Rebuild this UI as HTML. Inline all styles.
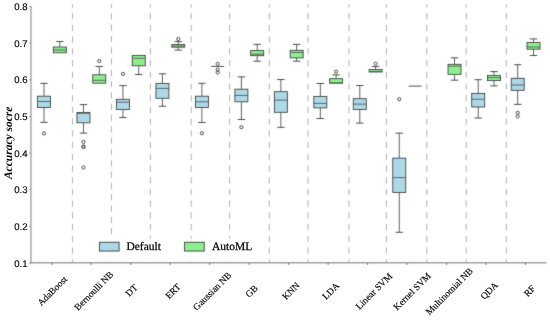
<!DOCTYPE html><html><head><meta charset="utf-8"><style>html,body{margin:0;padding:0;background:#fff;width:550px;height:320px;overflow:hidden}svg{display:block}</style></head><body>
<svg width="550" height="320" viewBox="0 0 550 320">
<defs><filter id="id" filterUnits="userSpaceOnUse" x="0" y="0" width="550" height="320"><feOffset dx="0" dy="0"/></filter><filter id="bl" filterUnits="userSpaceOnUse" x="0" y="0" width="550" height="320" color-interpolation-filters="sRGB"><feConvolveMatrix order="3" kernelMatrix="0.0113 0.0838 0.0113 0.0838 0.6193 0.0838 0.0113 0.0838 0.0113" edgeMode="duplicate" preserveAlpha="true"/></filter></defs>
<g filter="url(#bl)">
<rect width="550" height="320" fill="#fff"/>
<line x1="72.5" y1="4.3" x2="72.5" y2="262.5" stroke="#b8b8b8" stroke-width="1.1" stroke-dasharray="6.2 5.52" stroke-dashoffset="2.92"/>
<line x1="111.45" y1="4.3" x2="111.45" y2="262.5" stroke="#b8b8b8" stroke-width="1.1" stroke-dasharray="6.2 5.10" stroke-dashoffset="2.30"/>
<line x1="150.4" y1="4.3" x2="150.4" y2="262.5" stroke="#b8b8b8" stroke-width="1.1" stroke-dasharray="6.2 5.52" stroke-dashoffset="2.92"/>
<line x1="191.2" y1="4.3" x2="191.2" y2="262.5" stroke="#b8b8b8" stroke-width="1.1" stroke-dasharray="6.2 5.52" stroke-dashoffset="2.92"/>
<line x1="229.6" y1="4.3" x2="229.6" y2="262.5" stroke="#b8b8b8" stroke-width="1.1" stroke-dasharray="6.2 5.52" stroke-dashoffset="2.92"/>
<line x1="269.3" y1="4.3" x2="269.3" y2="262.5" stroke="#b8b8b8" stroke-width="1.1" stroke-dasharray="6.2 5.52" stroke-dashoffset="2.92"/>
<line x1="308.0" y1="4.3" x2="308.0" y2="262.5" stroke="#b8b8b8" stroke-width="1.1" stroke-dasharray="6.2 5.52" stroke-dashoffset="2.92"/>
<line x1="349.0" y1="4.3" x2="349.0" y2="262.5" stroke="#b8b8b8" stroke-width="1.1" stroke-dasharray="6.2 5.52" stroke-dashoffset="2.92"/>
<line x1="386.4" y1="4.3" x2="386.4" y2="262.5" stroke="#b8b8b8" stroke-width="1.1" stroke-dasharray="6.2 5.52" stroke-dashoffset="2.92"/>
<line x1="426.8" y1="4.3" x2="426.8" y2="262.5" stroke="#b8b8b8" stroke-width="1.1" stroke-dasharray="6.2 5.52" stroke-dashoffset="2.92"/>
<line x1="466.2" y1="4.3" x2="466.2" y2="262.5" stroke="#b8b8b8" stroke-width="1.1" stroke-dasharray="6.2 5.52" stroke-dashoffset="2.92"/>
<line x1="506.3" y1="4.3" x2="506.3" y2="262.5" stroke="#b8b8b8" stroke-width="1.1" stroke-dasharray="6.2 5.52" stroke-dashoffset="2.92"/>
<rect x="93" y="238.3" width="166" height="24.0" fill="#fff" fill-opacity="0.85"/>
<line x1="30.95" y1="5.9" x2="30.95" y2="263.4" stroke="#a8a8a8" stroke-width="1.5"/>
<line x1="30.2" y1="262.7" x2="546.4" y2="262.7" stroke="#a0a0a0" stroke-width="1.5"/>
<line x1="29.4" y1="263.09" x2="30.5" y2="263.09" stroke="#666" stroke-width="1"/>
<line x1="29.4" y1="226.42" x2="30.5" y2="226.42" stroke="#666" stroke-width="1"/>
<line x1="29.4" y1="189.75" x2="30.5" y2="189.75" stroke="#666" stroke-width="1"/>
<line x1="29.4" y1="153.08" x2="30.5" y2="153.08" stroke="#666" stroke-width="1"/>
<line x1="29.4" y1="116.41" x2="30.5" y2="116.41" stroke="#666" stroke-width="1"/>
<line x1="29.4" y1="79.74" x2="30.5" y2="79.74" stroke="#666" stroke-width="1"/>
<line x1="29.4" y1="43.07" x2="30.5" y2="43.07" stroke="#666" stroke-width="1"/>
<line x1="29.4" y1="6.40" x2="30.5" y2="6.40" stroke="#666" stroke-width="1"/>
<line x1="51.80" y1="263" x2="51.80" y2="264.8" stroke="#666" stroke-width="1"/>
<line x1="91.28" y1="263" x2="91.28" y2="264.8" stroke="#666" stroke-width="1"/>
<line x1="130.75" y1="263" x2="130.75" y2="264.8" stroke="#666" stroke-width="1"/>
<line x1="170.23" y1="263" x2="170.23" y2="264.8" stroke="#666" stroke-width="1"/>
<line x1="209.70" y1="263" x2="209.70" y2="264.8" stroke="#666" stroke-width="1"/>
<line x1="249.18" y1="263" x2="249.18" y2="264.8" stroke="#666" stroke-width="1"/>
<line x1="288.65" y1="263" x2="288.65" y2="264.8" stroke="#666" stroke-width="1"/>
<line x1="328.12" y1="263" x2="328.12" y2="264.8" stroke="#666" stroke-width="1"/>
<line x1="367.60" y1="263" x2="367.60" y2="264.8" stroke="#666" stroke-width="1"/>
<line x1="407.08" y1="263" x2="407.08" y2="264.8" stroke="#666" stroke-width="1"/>
<line x1="446.55" y1="263" x2="446.55" y2="264.8" stroke="#666" stroke-width="1"/>
<line x1="486.03" y1="263" x2="486.03" y2="264.8" stroke="#666" stroke-width="1"/>
<line x1="525.50" y1="263" x2="525.50" y2="264.8" stroke="#666" stroke-width="1"/>
<line x1="44.00" y1="83.4" x2="44.00" y2="96.2" stroke="#505050" stroke-width="0.9"/>
<line x1="40.30" y1="83.4" x2="47.70" y2="83.4" stroke="#3c3c3c" stroke-width="0.9"/>
<line x1="44.00" y1="107.5" x2="44.00" y2="122.4" stroke="#505050" stroke-width="0.9"/>
<line x1="40.30" y1="122.4" x2="47.70" y2="122.4" stroke="#3c3c3c" stroke-width="0.9"/>
<rect x="37.50" y="96.2" width="13.00" height="11.30" fill="#add8e6" stroke="#3c3c3c" stroke-width="0.85"/>
<line x1="37.50" y1="101.5" x2="50.50" y2="101.5" stroke="#4a5258" stroke-width="0.85"/>
<circle cx="44.00" cy="133.4" r="1.6" fill="none" stroke="#3c3c3c" stroke-width="0.9"/>
<line x1="59.80" y1="41.5" x2="59.80" y2="47.0" stroke="#505050" stroke-width="0.9"/>
<line x1="56.10" y1="41.5" x2="63.50" y2="41.5" stroke="#3c3c3c" stroke-width="0.9"/>
<rect x="53.30" y="47.0" width="13.00" height="5.80" fill="#90ee90" stroke="#3c3c3c" stroke-width="0.85"/>
<line x1="53.30" y1="50.0" x2="66.30" y2="50.0" stroke="#4a5258" stroke-width="0.85"/>
<line x1="83.47" y1="104.6" x2="83.47" y2="112.5" stroke="#505050" stroke-width="0.9"/>
<line x1="79.77" y1="104.6" x2="87.17" y2="104.6" stroke="#3c3c3c" stroke-width="0.9"/>
<line x1="83.47" y1="122.8" x2="83.47" y2="133.1" stroke="#505050" stroke-width="0.9"/>
<line x1="79.77" y1="133.1" x2="87.17" y2="133.1" stroke="#3c3c3c" stroke-width="0.9"/>
<rect x="76.97" y="112.5" width="13.00" height="10.30" fill="#add8e6" stroke="#3c3c3c" stroke-width="0.85"/>
<line x1="76.97" y1="113.3" x2="89.97" y2="113.3" stroke="#4a5258" stroke-width="0.85"/>
<circle cx="83.47" cy="141.9" r="1.6" fill="none" stroke="#3c3c3c" stroke-width="0.9"/>
<circle cx="83.47" cy="146.5" r="1.6" fill="none" stroke="#3c3c3c" stroke-width="0.9"/>
<circle cx="83.47" cy="147.0" r="1.6" fill="none" stroke="#3c3c3c" stroke-width="0.9"/>
<circle cx="83.47" cy="167.5" r="1.6" fill="none" stroke="#3c3c3c" stroke-width="0.9"/>
<line x1="99.28" y1="66.5" x2="99.28" y2="74.8" stroke="#505050" stroke-width="0.9"/>
<line x1="95.58" y1="66.5" x2="102.98" y2="66.5" stroke="#3c3c3c" stroke-width="0.9"/>
<rect x="92.78" y="74.8" width="13.00" height="8.40" fill="#90ee90" stroke="#3c3c3c" stroke-width="0.85"/>
<line x1="92.78" y1="80.3" x2="105.78" y2="80.3" stroke="#4a5258" stroke-width="0.85"/>
<circle cx="99.28" cy="61.0" r="1.6" fill="none" stroke="#3c3c3c" stroke-width="0.9"/>
<line x1="122.95" y1="85.6" x2="122.95" y2="99.3" stroke="#505050" stroke-width="0.9"/>
<line x1="119.25" y1="85.6" x2="126.65" y2="85.6" stroke="#3c3c3c" stroke-width="0.9"/>
<line x1="122.95" y1="109.5" x2="122.95" y2="117.5" stroke="#505050" stroke-width="0.9"/>
<line x1="119.25" y1="117.5" x2="126.65" y2="117.5" stroke="#3c3c3c" stroke-width="0.9"/>
<rect x="116.45" y="99.3" width="13.00" height="10.20" fill="#add8e6" stroke="#3c3c3c" stroke-width="0.85"/>
<line x1="116.45" y1="102.2" x2="129.45" y2="102.2" stroke="#4a5258" stroke-width="0.85"/>
<circle cx="122.95" cy="73.9" r="1.6" fill="none" stroke="#3c3c3c" stroke-width="0.9"/>
<line x1="138.75" y1="65.8" x2="138.75" y2="74.5" stroke="#505050" stroke-width="0.9"/>
<line x1="135.05" y1="74.5" x2="142.45" y2="74.5" stroke="#3c3c3c" stroke-width="0.9"/>
<rect x="132.25" y="55.4" width="13.00" height="10.40" fill="#90ee90" stroke="#3c3c3c" stroke-width="0.85"/>
<line x1="132.25" y1="58.3" x2="145.25" y2="58.3" stroke="#4a5258" stroke-width="0.85"/>
<line x1="162.43" y1="73.8" x2="162.43" y2="83.4" stroke="#505050" stroke-width="0.9"/>
<line x1="158.73" y1="73.8" x2="166.12" y2="73.8" stroke="#3c3c3c" stroke-width="0.9"/>
<line x1="162.43" y1="98.3" x2="162.43" y2="106.2" stroke="#505050" stroke-width="0.9"/>
<line x1="158.73" y1="106.2" x2="166.12" y2="106.2" stroke="#3c3c3c" stroke-width="0.9"/>
<rect x="155.93" y="83.4" width="13.00" height="14.90" fill="#add8e6" stroke="#3c3c3c" stroke-width="0.85"/>
<line x1="155.93" y1="88.4" x2="168.93" y2="88.4" stroke="#4a5258" stroke-width="0.85"/>
<line x1="178.23" y1="41.6" x2="178.23" y2="44.6" stroke="#505050" stroke-width="0.9"/>
<line x1="174.53" y1="41.6" x2="181.93" y2="41.6" stroke="#3c3c3c" stroke-width="0.9"/>
<line x1="178.23" y1="47.2" x2="178.23" y2="50.1" stroke="#505050" stroke-width="0.9"/>
<line x1="174.53" y1="50.1" x2="181.93" y2="50.1" stroke="#3c3c3c" stroke-width="0.9"/>
<rect x="171.73" y="44.6" width="13.00" height="2.60" fill="#90ee90" stroke="#3c3c3c" stroke-width="0.85"/>
<line x1="171.73" y1="46.0" x2="184.73" y2="46.0" stroke="#4a5258" stroke-width="0.85"/>
<circle cx="178.23" cy="39.0" r="1.6" fill="none" stroke="#3c3c3c" stroke-width="0.9"/>
<line x1="201.90" y1="83.3" x2="201.90" y2="96.2" stroke="#505050" stroke-width="0.9"/>
<line x1="198.20" y1="83.3" x2="205.60" y2="83.3" stroke="#3c3c3c" stroke-width="0.9"/>
<line x1="201.90" y1="107.5" x2="201.90" y2="122.5" stroke="#505050" stroke-width="0.9"/>
<line x1="198.20" y1="122.5" x2="205.60" y2="122.5" stroke="#3c3c3c" stroke-width="0.9"/>
<rect x="195.40" y="96.2" width="13.00" height="11.30" fill="#add8e6" stroke="#3c3c3c" stroke-width="0.85"/>
<line x1="195.40" y1="101.8" x2="208.40" y2="101.8" stroke="#4a5258" stroke-width="0.85"/>
<circle cx="201.90" cy="133.3" r="1.6" fill="none" stroke="#3c3c3c" stroke-width="0.9"/>
<line x1="211.20" y1="66.4" x2="224.20" y2="66.4" stroke="#3c3c3c" stroke-width="0.9"/>
<circle cx="217.70" cy="63.9" r="1.6" fill="none" stroke="#3c3c3c" stroke-width="0.9"/>
<circle cx="217.70" cy="69.6" r="1.6" fill="none" stroke="#3c3c3c" stroke-width="0.9"/>
<circle cx="217.70" cy="72.4" r="1.6" fill="none" stroke="#3c3c3c" stroke-width="0.9"/>
<line x1="241.38" y1="76.9" x2="241.38" y2="89.2" stroke="#505050" stroke-width="0.9"/>
<line x1="237.68" y1="76.9" x2="245.07" y2="76.9" stroke="#3c3c3c" stroke-width="0.9"/>
<line x1="241.38" y1="101.8" x2="241.38" y2="119.5" stroke="#505050" stroke-width="0.9"/>
<line x1="237.68" y1="119.5" x2="245.07" y2="119.5" stroke="#3c3c3c" stroke-width="0.9"/>
<rect x="234.88" y="89.2" width="13.00" height="12.60" fill="#add8e6" stroke="#3c3c3c" stroke-width="0.85"/>
<line x1="234.88" y1="95.4" x2="247.88" y2="95.4" stroke="#4a5258" stroke-width="0.85"/>
<circle cx="241.38" cy="127.2" r="1.6" fill="none" stroke="#3c3c3c" stroke-width="0.9"/>
<line x1="257.18" y1="44.3" x2="257.18" y2="50.6" stroke="#505050" stroke-width="0.9"/>
<line x1="253.48" y1="44.3" x2="260.88" y2="44.3" stroke="#3c3c3c" stroke-width="0.9"/>
<line x1="257.18" y1="55.7" x2="257.18" y2="61.2" stroke="#505050" stroke-width="0.9"/>
<line x1="253.48" y1="61.2" x2="260.88" y2="61.2" stroke="#3c3c3c" stroke-width="0.9"/>
<rect x="250.68" y="50.6" width="13.00" height="5.10" fill="#90ee90" stroke="#3c3c3c" stroke-width="0.85"/>
<line x1="250.68" y1="54.2" x2="263.68" y2="54.2" stroke="#4a5258" stroke-width="0.85"/>
<line x1="280.85" y1="79.5" x2="280.85" y2="91.7" stroke="#505050" stroke-width="0.9"/>
<line x1="277.15" y1="79.5" x2="284.55" y2="79.5" stroke="#3c3c3c" stroke-width="0.9"/>
<line x1="280.85" y1="112.3" x2="280.85" y2="127.3" stroke="#505050" stroke-width="0.9"/>
<line x1="277.15" y1="127.3" x2="284.55" y2="127.3" stroke="#3c3c3c" stroke-width="0.9"/>
<rect x="274.35" y="91.7" width="13.00" height="20.60" fill="#add8e6" stroke="#3c3c3c" stroke-width="0.85"/>
<line x1="274.35" y1="100.1" x2="287.35" y2="100.1" stroke="#4a5258" stroke-width="0.85"/>
<line x1="296.65" y1="44.4" x2="296.65" y2="50.3" stroke="#505050" stroke-width="0.9"/>
<line x1="292.95" y1="44.4" x2="300.35" y2="44.4" stroke="#3c3c3c" stroke-width="0.9"/>
<line x1="296.65" y1="57.9" x2="296.65" y2="61.2" stroke="#505050" stroke-width="0.9"/>
<line x1="292.95" y1="61.2" x2="300.35" y2="61.2" stroke="#3c3c3c" stroke-width="0.9"/>
<rect x="290.15" y="50.3" width="13.00" height="7.60" fill="#90ee90" stroke="#3c3c3c" stroke-width="0.85"/>
<line x1="290.15" y1="52.4" x2="303.15" y2="52.4" stroke="#4a5258" stroke-width="0.85"/>
<line x1="320.33" y1="83.5" x2="320.33" y2="96.4" stroke="#505050" stroke-width="0.9"/>
<line x1="316.63" y1="83.5" x2="324.03" y2="83.5" stroke="#3c3c3c" stroke-width="0.9"/>
<line x1="320.33" y1="107.9" x2="320.33" y2="118.5" stroke="#505050" stroke-width="0.9"/>
<line x1="316.63" y1="118.5" x2="324.03" y2="118.5" stroke="#3c3c3c" stroke-width="0.9"/>
<rect x="313.83" y="96.4" width="13.00" height="11.50" fill="#add8e6" stroke="#3c3c3c" stroke-width="0.85"/>
<line x1="313.83" y1="103.4" x2="326.83" y2="103.4" stroke="#4a5258" stroke-width="0.85"/>
<line x1="336.12" y1="74.9" x2="336.12" y2="78.7" stroke="#505050" stroke-width="0.9"/>
<line x1="332.43" y1="74.9" x2="339.82" y2="74.9" stroke="#3c3c3c" stroke-width="0.9"/>
<rect x="329.62" y="78.7" width="13.00" height="4.40" fill="#90ee90" stroke="#3c3c3c" stroke-width="0.85"/>
<line x1="329.62" y1="83.0" x2="342.62" y2="83.0" stroke="#4a5258" stroke-width="0.85"/>
<circle cx="336.12" cy="71.75" r="1.6" fill="none" stroke="#3c3c3c" stroke-width="0.9"/>
<line x1="359.80" y1="85.5" x2="359.80" y2="98.7" stroke="#505050" stroke-width="0.9"/>
<line x1="356.10" y1="85.5" x2="363.50" y2="85.5" stroke="#3c3c3c" stroke-width="0.9"/>
<line x1="359.80" y1="109.5" x2="359.80" y2="123.1" stroke="#505050" stroke-width="0.9"/>
<line x1="356.10" y1="123.1" x2="363.50" y2="123.1" stroke="#3c3c3c" stroke-width="0.9"/>
<rect x="353.30" y="98.7" width="13.00" height="10.80" fill="#add8e6" stroke="#3c3c3c" stroke-width="0.85"/>
<line x1="353.30" y1="104.1" x2="366.30" y2="104.1" stroke="#4a5258" stroke-width="0.85"/>
<line x1="375.60" y1="66.5" x2="375.60" y2="69.5" stroke="#505050" stroke-width="0.9"/>
<line x1="371.90" y1="66.5" x2="379.30" y2="66.5" stroke="#3c3c3c" stroke-width="0.9"/>
<rect x="369.10" y="69.5" width="13.00" height="2.50" fill="#90ee90" stroke="#3c3c3c" stroke-width="0.85"/>
<line x1="369.10" y1="71.5" x2="382.10" y2="71.5" stroke="#4a5258" stroke-width="0.85"/>
<circle cx="375.60" cy="63.6" r="1.6" fill="none" stroke="#3c3c3c" stroke-width="0.9"/>
<line x1="399.28" y1="133.1" x2="399.28" y2="158.1" stroke="#505050" stroke-width="0.9"/>
<line x1="395.58" y1="133.1" x2="402.98" y2="133.1" stroke="#3c3c3c" stroke-width="0.9"/>
<line x1="399.28" y1="192.4" x2="399.28" y2="232.3" stroke="#505050" stroke-width="0.9"/>
<line x1="395.58" y1="232.3" x2="402.98" y2="232.3" stroke="#3c3c3c" stroke-width="0.9"/>
<rect x="392.78" y="158.1" width="13.00" height="34.30" fill="#add8e6" stroke="#3c3c3c" stroke-width="0.85"/>
<line x1="392.78" y1="177.6" x2="405.78" y2="177.6" stroke="#4a5258" stroke-width="0.85"/>
<circle cx="399.28" cy="99.2" r="1.6" fill="none" stroke="#3c3c3c" stroke-width="0.9"/>
<line x1="408.58" y1="86.1" x2="421.58" y2="86.1" stroke="#3c3c3c" stroke-width="0.9"/>
<line x1="454.55" y1="57.8" x2="454.55" y2="64.3" stroke="#505050" stroke-width="0.9"/>
<line x1="450.85" y1="57.8" x2="458.25" y2="57.8" stroke="#3c3c3c" stroke-width="0.9"/>
<line x1="454.55" y1="74.3" x2="454.55" y2="80.2" stroke="#505050" stroke-width="0.9"/>
<line x1="450.85" y1="80.2" x2="458.25" y2="80.2" stroke="#3c3c3c" stroke-width="0.9"/>
<rect x="448.05" y="64.3" width="13.00" height="10.00" fill="#90ee90" stroke="#3c3c3c" stroke-width="0.85"/>
<line x1="448.05" y1="66.1" x2="461.05" y2="66.1" stroke="#4a5258" stroke-width="0.85"/>
<line x1="478.23" y1="79.7" x2="478.23" y2="93.4" stroke="#505050" stroke-width="0.9"/>
<line x1="474.53" y1="79.7" x2="481.93" y2="79.7" stroke="#3c3c3c" stroke-width="0.9"/>
<line x1="478.23" y1="107.0" x2="478.23" y2="118.0" stroke="#505050" stroke-width="0.9"/>
<line x1="474.53" y1="118.0" x2="481.93" y2="118.0" stroke="#3c3c3c" stroke-width="0.9"/>
<rect x="471.73" y="93.4" width="13.00" height="13.60" fill="#add8e6" stroke="#3c3c3c" stroke-width="0.85"/>
<line x1="471.73" y1="99.2" x2="484.73" y2="99.2" stroke="#4a5258" stroke-width="0.85"/>
<line x1="494.03" y1="71.6" x2="494.03" y2="75.4" stroke="#505050" stroke-width="0.9"/>
<line x1="490.33" y1="71.6" x2="497.73" y2="71.6" stroke="#3c3c3c" stroke-width="0.9"/>
<line x1="494.03" y1="80.6" x2="494.03" y2="85.9" stroke="#505050" stroke-width="0.9"/>
<line x1="490.33" y1="85.9" x2="497.73" y2="85.9" stroke="#3c3c3c" stroke-width="0.9"/>
<rect x="487.53" y="75.4" width="13.00" height="5.20" fill="#90ee90" stroke="#3c3c3c" stroke-width="0.85"/>
<line x1="487.53" y1="77.6" x2="500.53" y2="77.6" stroke="#4a5258" stroke-width="0.85"/>
<line x1="517.70" y1="64.7" x2="517.70" y2="78.3" stroke="#505050" stroke-width="0.9"/>
<line x1="514.00" y1="64.7" x2="521.40" y2="64.7" stroke="#3c3c3c" stroke-width="0.9"/>
<line x1="517.70" y1="90.3" x2="517.70" y2="104.4" stroke="#505050" stroke-width="0.9"/>
<line x1="514.00" y1="104.4" x2="521.40" y2="104.4" stroke="#3c3c3c" stroke-width="0.9"/>
<rect x="511.20" y="78.3" width="13.00" height="12.00" fill="#add8e6" stroke="#3c3c3c" stroke-width="0.85"/>
<line x1="511.20" y1="85.0" x2="524.20" y2="85.0" stroke="#4a5258" stroke-width="0.85"/>
<circle cx="517.70" cy="112.8" r="1.6" fill="none" stroke="#3c3c3c" stroke-width="0.9"/>
<circle cx="517.70" cy="116.4" r="1.6" fill="none" stroke="#3c3c3c" stroke-width="0.9"/>
<line x1="533.50" y1="38.9" x2="533.50" y2="42.4" stroke="#505050" stroke-width="0.9"/>
<line x1="529.80" y1="38.9" x2="537.20" y2="38.9" stroke="#3c3c3c" stroke-width="0.9"/>
<line x1="533.50" y1="49.2" x2="533.50" y2="55.5" stroke="#505050" stroke-width="0.9"/>
<line x1="529.80" y1="55.5" x2="537.20" y2="55.5" stroke="#3c3c3c" stroke-width="0.9"/>
<rect x="527.00" y="42.4" width="13.00" height="6.80" fill="#90ee90" stroke="#3c3c3c" stroke-width="0.85"/>
<line x1="527.00" y1="47.0" x2="540.00" y2="47.0" stroke="#4a5258" stroke-width="0.85"/>
<rect x="99.4" y="242.25" width="19.7" height="8.8" fill="#add8e6" stroke="#3c3c3c" stroke-width="0.9"/>
<rect x="184.6" y="242.25" width="19.6" height="8.8" fill="#90ee90" stroke="#3c3c3c" stroke-width="0.9"/>
</g>
<g fill="#000" stroke="#000" stroke-width="0.25" filter="url(#id)" style="text-rendering:geometricPrecision">
<text x="27.6" y="266.54" font-family="Liberation Sans" font-size="9.6" text-anchor="end" stroke-width="0.15">0.1</text>
<text x="27.6" y="229.87" font-family="Liberation Sans" font-size="9.6" text-anchor="end" stroke-width="0.15">0.2</text>
<text x="27.6" y="193.20" font-family="Liberation Sans" font-size="9.6" text-anchor="end" stroke-width="0.15">0.3</text>
<text x="27.6" y="156.53" font-family="Liberation Sans" font-size="9.6" text-anchor="end" stroke-width="0.15">0.4</text>
<text x="27.6" y="119.86" font-family="Liberation Sans" font-size="9.6" text-anchor="end" stroke-width="0.15">0.5</text>
<text x="27.6" y="83.19" font-family="Liberation Sans" font-size="9.6" text-anchor="end" stroke-width="0.15">0.6</text>
<text x="27.6" y="46.52" font-family="Liberation Sans" font-size="9.6" text-anchor="end" stroke-width="0.15">0.7</text>
<text x="27.6" y="9.85" font-family="Liberation Sans" font-size="9.6" text-anchor="end" stroke-width="0.15">0.8</text>
<text x="0" y="0" transform="translate(53.15,291.70) rotate(-45)" font-family="Liberation Serif" font-size="9.4" text-anchor="middle" dominant-baseline="central" stroke-width="0.15">AdaBoost</text>
<text x="0" y="0" transform="translate(94.65,291.60) rotate(-45)" font-family="Liberation Serif" font-size="9.4" text-anchor="middle" dominant-baseline="central" stroke-width="0.15">Bernoulli NB</text>
<text x="0" y="0" transform="translate(132.35,291.20) rotate(-45)" font-family="Liberation Serif" font-size="9.4" text-anchor="middle" dominant-baseline="central" stroke-width="0.15">DT</text>
<text x="0" y="0" transform="translate(173.80,292.10) rotate(-45)" font-family="Liberation Serif" font-size="9.4" text-anchor="middle" dominant-baseline="central" stroke-width="0.15">ERT</text>
<text x="0" y="0" transform="translate(213.05,291.90) rotate(-45)" font-family="Liberation Serif" font-size="9.4" text-anchor="middle" dominant-baseline="central" stroke-width="0.15">Gaussian NB</text>
<text x="0" y="0" transform="translate(252.35,292.00) rotate(-45)" font-family="Liberation Serif" font-size="9.4" text-anchor="middle" dominant-baseline="central" stroke-width="0.15">GB</text>
<text x="0" y="0" transform="translate(291.80,291.70) rotate(-45)" font-family="Liberation Serif" font-size="9.4" text-anchor="middle" dominant-baseline="central" stroke-width="0.15">KNN</text>
<text x="0" y="0" transform="translate(331.50,291.70) rotate(-45)" font-family="Liberation Serif" font-size="9.4" text-anchor="middle" dominant-baseline="central" stroke-width="0.15">LDA</text>
<text x="0" y="0" transform="translate(374.70,292.00) rotate(-45)" font-family="Liberation Serif" font-size="9.4" text-anchor="middle" dominant-baseline="central" stroke-width="0.15">Linear SVM</text>
<text x="0" y="0" transform="translate(412.95,292.30) rotate(-45)" font-family="Liberation Serif" font-size="9.4" text-anchor="middle" dominant-baseline="central" stroke-width="0.15">Kernel SVM</text>
<text x="0" y="0" transform="translate(450.10,292.10) rotate(-45)" font-family="Liberation Serif" font-size="9.4" text-anchor="middle" dominant-baseline="central" stroke-width="0.15">Multinomial NB</text>
<text x="0" y="0" transform="translate(490.00,291.50) rotate(-45)" font-family="Liberation Serif" font-size="9.4" text-anchor="middle" dominant-baseline="central" stroke-width="0.15">QDA</text>
<text x="0" y="0" transform="translate(530.30,291.70) rotate(-45)" font-family="Liberation Serif" font-size="9.4" text-anchor="middle" dominant-baseline="central" stroke-width="0.15">RF</text>
<text x="0" y="0" transform="translate(11.8,142.8) rotate(-90)" font-family="Liberation Serif" font-weight="bold" font-style="italic" font-size="11.5" text-anchor="middle" stroke-width="0">Accuracy socre</text>
<text x="126.4" y="249.6" font-family="Liberation Serif" font-size="11.5">Default</text>
<text x="212.0" y="249.6" font-family="Liberation Serif" font-size="11.5">AutoML</text>
</g>
</svg></body></html>
